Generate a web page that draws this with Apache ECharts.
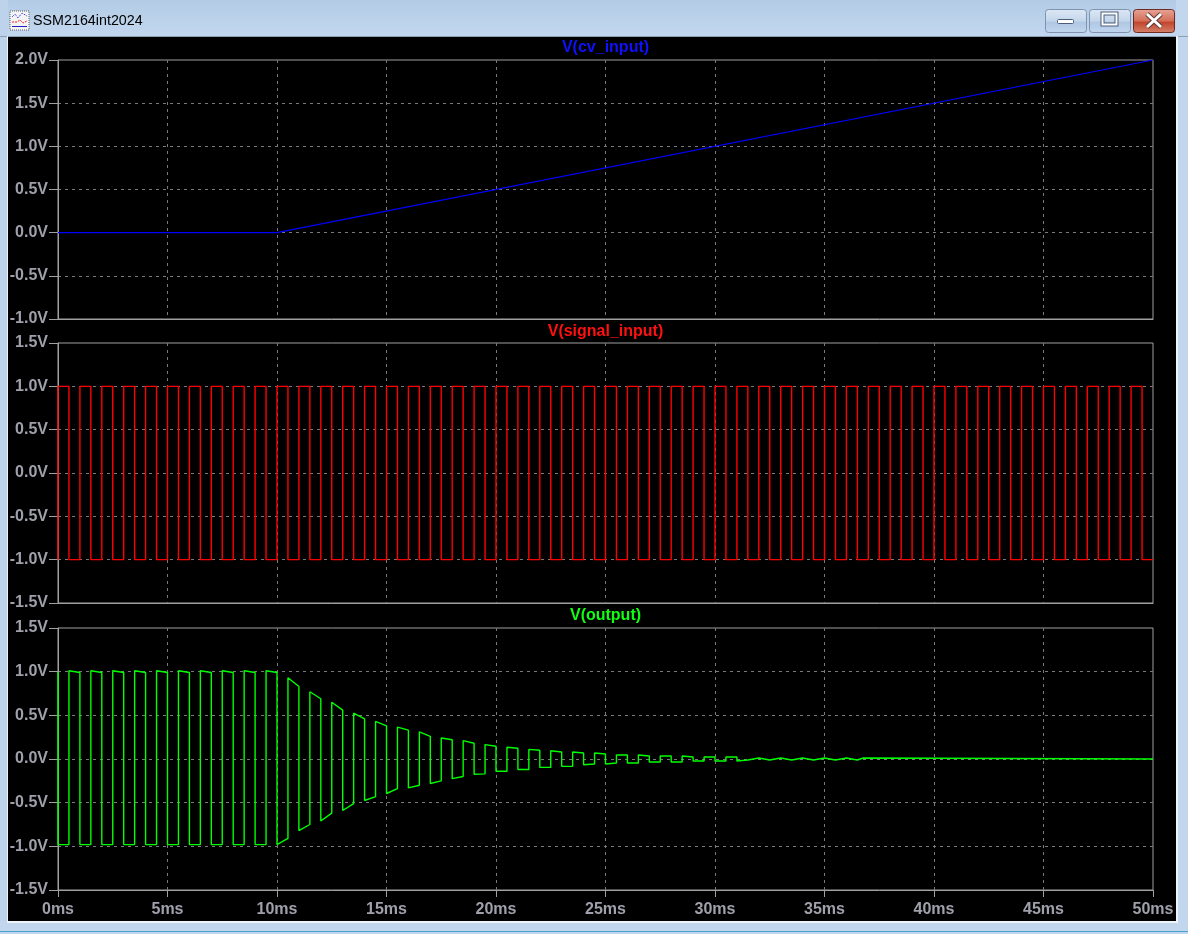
<!DOCTYPE html>
<html>
<head>
<meta charset="utf-8">
<script src="https://cdn.jsdelivr.net/npm/echarts@6/dist/echarts.min.js"></script>
<style>
html,body{margin:0;padding:0;background:#bdd3ea;}
#c{width:1188px;height:934px;}
</style>
</head>
<body>
<div id="c"></div>
<script>
// ---------- data ----------
const windowTitle = 'SSM2164int2024';
const panelTitles = ['V(cv_input)', 'V(signal_input)', 'V(output)'];

// control voltage: piecewise linear
const cvTimesMs = [0, 10, 50];
const cvValues  = [0, 0, 2];

// signal input: 1 kHz square wave, one level per half period (0.5 ms)
const halfPeriodMs = 0.5;
const signalInitial = -1;
const signalLevels = [
  1,-1,1,-1,1,-1,1,-1,1,-1, 1,-1,1,-1,1,-1,1,-1,1,-1,
  1,-1,1,-1,1,-1,1,-1,1,-1, 1,-1,1,-1,1,-1,1,-1,1,-1,
  1,-1,1,-1,1,-1,1,-1,1,-1, 1,-1,1,-1,1,-1,1,-1,1,-1,
  1,-1,1,-1,1,-1,1,-1,1,-1, 1,-1,1,-1,1,-1,1,-1,1,-1,
  1,-1,1,-1,1,-1,1,-1,1,-1, 1,-1,1,-1,1,-1,1,-1,1,-1
];

// output: value at start and end of each half period
const outputInitial = 1.0;
const outputStart = [
  -0.98,1.01,-0.98,1.01,-0.98,1.01,-0.98,1.01,-0.98,1.01,
  -0.98,1.01,-0.98,1.01,-0.98,1.01,-0.98,1.01,-0.98,1.01,
  -0.98,0.93,-0.82,0.77,-0.71,0.65,-0.59,0.525,-0.475,0.43,
  -0.395,0.365,-0.33,0.31,-0.28,0.24,-0.225,0.21,-0.175,0.165,
  -0.14,0.134,-0.12,0.11,-0.096,0.095,-0.084,0.08,-0.066,0.069,
  -0.058,0.046,-0.046,0.046,-0.034,0.034,-0.034,0.034,-0.023,0.023,
  -0.023,0.023,-0.023,0.011,-0.011,0.011,-0.011,0.011,-0.011,0.011,
  -0.011,0.011,-0.011,0.011
];
const outputEnd = [
  -0.98,0.99,-0.98,0.99,-0.98,0.99,-0.98,0.99,-0.98,0.99,
  -0.98,0.99,-0.98,0.99,-0.98,0.99,-0.98,0.99,-0.98,0.99,
  -0.91,0.83,-0.75,0.69,-0.62,0.56,-0.51,0.46,-0.43,0.38,
  -0.34,0.33,-0.30,0.26,-0.25,0.22,-0.20,0.18,-0.17,0.146,
  -0.14,0.123,-0.12,0.10,-0.096,0.08,-0.084,0.069,-0.058,0.057,
  -0.046,0.046,-0.046,0.034,-0.034,0.034,-0.034,0.023,-0.023,0.023,
  -0.023,0.023,-0.011,0.011,-0.011,0.011,-0.011,0.011,-0.011,0.011,
  -0.011,0.011,-0.011,0.011
];
const outputCutoffMs = 36.77;
const outputAfterCutoff = 0;
const timeEndMs = 50;

// ---------- build series data ----------
const cvData = cvTimesMs.map((t, i) => [t, cvValues[i]]);

const signalData = [[0, signalInitial]];
signalLevels.forEach((v, k) => {
  signalData.push([k * halfPeriodMs, v]);
  signalData.push([(k + 1) * halfPeriodMs, v]);
});

const outputData = [[0, outputInitial]];
outputStart.forEach((v, k) => {
  const t0 = k * halfPeriodMs;
  const t1 = Math.min((k + 1) * halfPeriodMs, outputCutoffMs);
  outputData.push([t0, v]);
  outputData.push([t1, outputEnd[k]]);
});
outputData.push([outputCutoffMs, outputAfterCutoff]);
outputData.push([timeEndMs, outputAfterCutoff]);

// ---------- layout ----------
const PL = 58, PW = 1095;
const grids = [
  {left: PL, top: 60,  width: PW, height: 259},
  {left: PL, top: 343, width: PW, height: 260},
  {left: PL, top: 628, width: PW, height: 262}
];
const yRanges = [[-1, 2], [-1.5, 1.5], [-1.5, 1.5]];
const titleY = [48, 332, 616];
const titleColors = ['#1010ff', '#ff1010', '#10ff10'];
const AX = '#a0a0a0';
const LABEL = '#a0a0ac';
const FONT = 'Liberation Sans, Arial, sans-serif';

const chart = echarts.init(document.getElementById('c'), null, {renderer: 'canvas'});

const option = {
  animation: false,
  backgroundColor: '#000000',
  grid: grids.map(g => Object.assign({show: true, borderColor: AX, borderWidth: 1, backgroundColor: 'transparent'}, g)),
  xAxis: grids.map((g, i) => ({
    type: 'value', gridIndex: i, min: 0, max: timeEndMs, interval: 5,
    axisLine: {show: true, onZero: false, lineStyle: {color: AX, width: 1}},
    axisTick: {show: i === 2, length: 7, lineStyle: {color: AX}},
    axisLabel: {show: i === 2, color: LABEL, fontFamily: FONT, fontWeight: 'bold', fontSize: 16, margin: 12,
                formatter: v => v + 'ms'},
    splitLine: {show: true, showMinLine: false, showMaxLine: false,
                lineStyle: {color: '#7a7a7a', type: [3, 4], width: 1}}
  })),
  yAxis: grids.map((g, i) => ({
    type: 'value', gridIndex: i, min: yRanges[i][0], max: yRanges[i][1], interval: 0.5,
    axisLine: {show: true, onZero: false, lineStyle: {color: AX, width: 1}},
    axisTick: {show: true, length: 9, lineStyle: {color: AX}},
    axisLabel: {color: LABEL, fontFamily: FONT, fontWeight: 'bold', fontSize: 16, margin: 10,
                formatter: v => v.toFixed(1) + 'V'},
    splitLine: {show: true, showMinLine: false, showMaxLine: false,
                lineStyle: {color: '#7a7a7a', type: [3, 4], width: 1}}
  })),
  series: [
    {type: 'line', xAxisIndex: 0, yAxisIndex: 0, data: cvData, showSymbol: false, z: 5,
     lineStyle: {color: '#0000ff', width: 1.2}},
    {type: 'line', xAxisIndex: 1, yAxisIndex: 1, data: signalData, showSymbol: false, z: 5,
     lineStyle: {color: '#ff0000', width: 1.4}},
    {type: 'line', xAxisIndex: 2, yAxisIndex: 2, data: outputData, showSymbol: false, z: 5,
     lineStyle: {color: '#00ff00', width: 1.4}}
  ],
  graphic: [
    // window frame
    {type: 'rect', shape: {x: 0, y: 0, width: 1188, height: 37}, z: 100,
     style: {fill: new echarts.graphic.LinearGradient(0, 0, 0, 1, [{offset: 0, color: '#b3cbe6'}, {offset: 1, color: '#c3d8ef'}])}},
    {type: 'rect', shape: {x: 0, y: 36, width: 1188, height: 1}, z: 101, style: {fill: '#8e9fb3'}},
    {type: 'rect', shape: {x: 0, y: 0, width: 8, height: 934}, z: 100, style: {fill: '#bcd3eb'}},
    {type: 'rect', shape: {x: 7, y: 36, width: 1, height: 886}, z: 101, style: {fill: '#e8f0f8'}},
    {type: 'rect', shape: {x: 1176, y: 0, width: 12, height: 934}, z: 100, style: {fill: '#c2d7ee'}},
    {type: 'rect', shape: {x: 1176, y: 36, width: 2, height: 887}, z: 101, style: {fill: '#eef4fa'}},
    {type: 'rect', shape: {x: 0, y: 921, width: 1188, height: 13}, z: 100, style: {fill: '#c2d7ee'}},
    {type: 'rect', shape: {x: 7, y: 921, width: 1171, height: 2}, z: 101, style: {fill: '#eef4fa'}},
    {type: 'rect', shape: {x: 0, y: 931, width: 1188, height: 1}, z: 101, style: {fill: '#4aa3cf'}},
    // title icon
    {type: 'rect', shape: {x: 10, y: 11, width: 19, height: 19}, z: 102,
     style: {fill: '#f4f4f4', stroke: '#606060', lineWidth: 1, lineDash: [1, 1]}},
    {type: 'polyline', shape: {points: [[12, 17], [15, 14], [18, 18], [22, 13], [27, 16]]}, z: 103,
     style: {stroke: '#2020ff', lineWidth: 1, fill: null, lineDash: [1, 1]}},
    {type: 'polyline', shape: {points: [[12, 22], [17, 22], [20, 20], [23, 23], [27, 21]]}, z: 103,
     style: {stroke: '#ff2020', lineWidth: 1, fill: null, lineDash: [2, 1]}},
    {type: 'rect', shape: {x: 12, y: 26, width: 15, height: 1}, z: 103, style: {fill: '#2020c0'}},
    // window title
    {type: 'text', x: 33, y: 21, z: 102,
     style: {text: windowTitle, font: '14.3px Liberation Sans, Arial, sans-serif', fill: '#000000', textVerticalAlign: 'middle'}},
    // minimize
    {type: 'rect', shape: {x: 1045.5, y: 9.5, width: 41, height: 23, r: 3}, z: 102,
     style: {fill: new echarts.graphic.LinearGradient(0, 0, 0, 1, [{offset: 0, color: '#dde8f5'}, {offset: 0.5, color: '#c4d6ec'}, {offset: 0.55, color: '#b0c7e3'}, {offset: 1, color: '#c2d6ee'}]), stroke: '#7f93ae', lineWidth: 1}},
    {type: 'rect', shape: {x: 1057.5, y: 19.5, width: 16, height: 4, r: 1}, z: 103, style: {fill: '#ffffff', stroke: '#4b5d78', lineWidth: 1}},
    // maximize
    {type: 'rect', shape: {x: 1089.5, y: 9.5, width: 41, height: 23, r: 3}, z: 102,
     style: {fill: new echarts.graphic.LinearGradient(0, 0, 0, 1, [{offset: 0, color: '#dde8f5'}, {offset: 0.5, color: '#c4d6ec'}, {offset: 0.55, color: '#b0c7e3'}, {offset: 1, color: '#c2d6ee'}]), stroke: '#7f93ae', lineWidth: 1}},
    {type: 'rect', shape: {x: 1102.5, y: 13.5, width: 14, height: 11}, z: 103, style: {fill: 'none', stroke: '#4b5d78', lineWidth: 4}},
    {type: 'rect', shape: {x: 1102.5, y: 13.5, width: 14, height: 11}, z: 104, style: {fill: 'none', stroke: '#ffffff', lineWidth: 2}},
    // close
    {type: 'rect', shape: {x: 1133.5, y: 9.5, width: 41, height: 23, r: 3}, z: 102,
     style: {fill: new echarts.graphic.LinearGradient(0, 0, 0, 1, [{offset: 0, color: '#e8a597'}, {offset: 0.5, color: '#d36e58'}, {offset: 0.55, color: '#c2452c'}, {offset: 1, color: '#d5836c'}]), stroke: '#6e2a22', lineWidth: 1}},
    {type: 'polyline', shape: {points: [[1147, 14], [1161, 27]]}, z: 103, style: {stroke: '#5a3a36', lineWidth: 5}},
    {type: 'polyline', shape: {points: [[1161, 14], [1147, 27]]}, z: 103, style: {stroke: '#5a3a36', lineWidth: 5}},
    {type: 'polyline', shape: {points: [[1147, 14], [1161, 27]]}, z: 104, style: {stroke: '#ffffff', lineWidth: 3}},
    {type: 'polyline', shape: {points: [[1161, 14], [1147, 27]]}, z: 104, style: {stroke: '#ffffff', lineWidth: 3}}
  ].concat(panelTitles.map((t, i) => ({
    type: 'text', x: PL + PW / 2, y: titleY[i], z: 50,
    style: {text: t, font: 'bold 16px Liberation Sans, Arial, sans-serif', fill: titleColors[i],
            textAlign: 'center', textVerticalAlign: 'middle'}
  })))
};
chart.setOption(option);
</script>
</body>
</html>
